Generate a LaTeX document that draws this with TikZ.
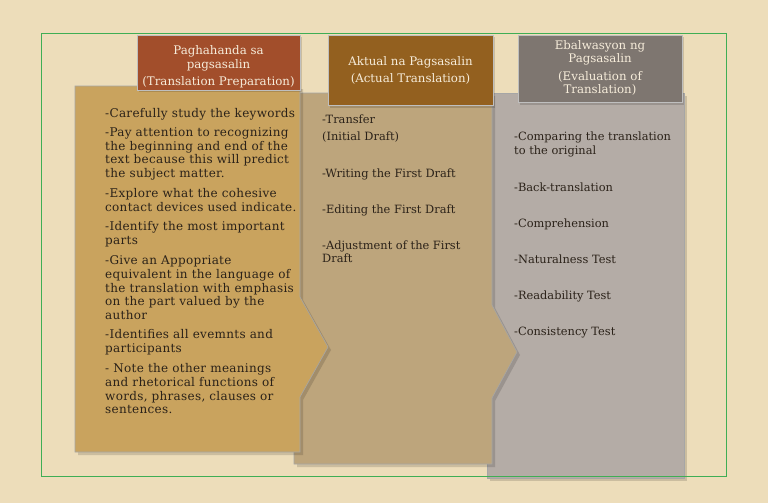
\documentclass[tikz,border=0pt]{standalone}
\usepackage{fontspec}
\setmainfont{DejaVu Serif}
\definecolor{parch}{HTML}{EDDDBA}
\definecolor{frame}{HTML}{3FAE55}
\definecolor{goldp}{HTML}{C9A35E}
\definecolor{tanp}{HTML}{BDA57C}
\definecolor{grayp}{HTML}{B4ACA6}
\definecolor{hrust}{HTML}{A24E2B}
\definecolor{hbrown}{HTML}{93601F}
\definecolor{hgray}{HTML}{7E7670}
\definecolor{ink}{HTML}{2B2219}
\definecolor{cream}{HTML}{F6ECDA}
\tikzset{
  panel/.style={draw=black!35, line width=0.6pt},
  shadowp/.style={fill=black, opacity=0.14},
  head/.style={draw=black!25, line width=0.5pt},
  htext/.style={text=cream, font=\fontsize{11.8}{13.5}\selectfont, align=center, inner sep=0pt},
  btext/.style={text=ink, font=\fontsize{12}{13.7}\selectfont\addfontfeatures{LetterSpace=2.5}, align=left, anchor=north west, inner sep=0pt},
  ctext/.style={text=ink, font=\fontsize{11.4}{13.4}\selectfont, align=left, anchor=north west, inner sep=0pt}
}
\begin{document}
\begin{tikzpicture}[x=1pt,y=-1pt]
\useasboundingbox (0,0) rectangle (768,503);
\fill[parch] (0,0) rectangle (768,503);
% panel 3
\fill[shadowp] (490,96) rectangle (687,481);
\fill[grayp,panel] (487,93) rectangle (684,478);
% panel 2
\fill[shadowp] (297,96) -- (495,96) -- (495,308) -- (520,355) -- (495,401) -- (495,467) -- (297,467) -- cycle;
\fill[tanp,panel] (294,93) -- (492,93) -- (492,305) -- (517,352) -- (492,398) -- (492,464) -- (294,464) -- cycle;
% panel 1
\fill[shadowp] (78,89) -- (303,89) -- (303,300) -- (331,350) -- (303,400) -- (303,455) -- (78,455) -- cycle;
\fill[goldp,panel] (75,86) -- (300,86) -- (300,297) -- (328,347) -- (300,397) -- (300,452) -- (75,452) -- cycle;
% green frame
\draw[frame, line width=0.8pt] (41,33) rectangle (726,476);
% headers
\fill[shadowp] (139,37) rectangle (302,92);
\fill[hrust,head] (137,35) rectangle (300,90);
\fill[shadowp] (330,37) rectangle (495,108);
\fill[hbrown,head] (328,35) rectangle (493,105);
\fill[shadowp] (520,37) rectangle (684,105);
\fill[hgray,head] (518,35) rectangle (682,102);
\node[htext] (h1) at (218.5,66.5) {Paghahanda sa\\[0.5pt]pagsasalin\\[3.5pt](Translation Preparation)};
\node[htext] (h2) at (410.5,70) {Aktual na Pagsasalin\\[3.5pt](Actual Translation)};
\node[htext] (h3) at (600,67.5) {Ebalwasyon ng\\[-0.5pt]Pagsasalin\\[4.5pt](Evaluation of\\[-0.5pt]Translation)};
% panel 1 text
\node[btext] (a1) at (105,108.5) {-Carefully study the keywords};
\node[btext] (a2) at (105,127.5) {-Pay attention to recognizing\\the beginning and end of the\\text because this will predict\\the subject matter.};
\node[btext] (a3) at (105,188.5) {-Explore what the cohesive\\contact devices used indicate.};
\node[btext] (a4) at (105,221.5) {-Identify the most important\\parts};
\node[btext] (a5) at (105,255.5) {-Give an Appopriate\\equivalent in the language of\\the translation with emphasis\\on the part valued by the\\author};
\node[btext] (a6) at (105,329.5) {-Identifies all evemnts and\\participants};
\node[btext] (a7) at (105,363.5) {- Note the other meanings\\and rhetorical functions of\\words, phrases, clauses or\\sentences.};
% panel 2 text
\node[ctext] (b1) at (322,114.7) {-Transfer\\[4pt](Initial Draft)};
\node[ctext] (b2) at (322,168.7) {-Writing the First Draft};
\node[ctext] (b3) at (322,204.7) {-Editing the First Draft};
\node[ctext] (b4) at (322,240.7) {-Adjustment of the First\\[-0.4pt]Draft};
% panel 3 text
\node[ctext] (c1) at (514,131.7) {-Comparing the translation\\[0.6pt]to the original};
\node[ctext] (c2) at (514,182.7) {-Back-translation};
\node[ctext] (c3) at (514,218.7) {-Comprehension};
\node[ctext] (c4) at (514,254.7) {-Naturalness Test};
\node[ctext] (c5) at (514,290.7) {-Readability Test};
\node[ctext] (c6) at (514,326.7) {-Consistency Test};
\end{tikzpicture}
\end{document}
